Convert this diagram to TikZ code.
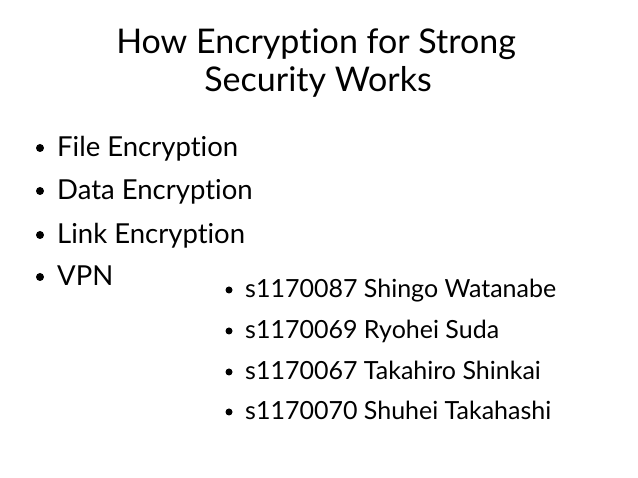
\documentclass[tikz,border=0pt]{standalone}
\usepackage{fontspec}
\setmainfont[Ligatures={NoCommon,NoDiscretionary}]{Lato}
\begin{document}
\begin{tikzpicture}[x=1pt,y=-1pt,
  ttl/.style={anchor=base,font=\fontsize{34}{40}\selectfont,inner sep=0pt},
  big/.style={anchor=base west,font=\fontsize{27.5}{32}\selectfont,inner sep=0pt},
  small/.style={anchor=base west,font=\fontsize{25}{28}\selectfont,inner sep=0pt}]
\useasboundingbox (0,0) rectangle (638,478);
\node[ttl] (t1) at (316,54) {How Encryption for Strong};
\node[ttl] (t2) at (318,92) {Security Works};
\foreach \n/\y/\t in {a/157/File Encryption,b/200/Data Encryption,c/244/Link Encryption,d/286/VPN}{
  \node[big] (\n) at (57,\y) {\t};
  \fill (40,\y-9) circle (4);
}
\foreach \n/\y/\t in {e/298/s1170087 Shingo Watanabe,f/339/s1170069 Ryohei Suda,g/380/s1170067 Takahiro Shinkai,h/420/s1170070 Shuhei Takahashi}{
  \node[small] (\n) at (245,\y) {\t};
  \fill (229,\y-8) circle (3.5);
}
\end{tikzpicture}
\end{document}
